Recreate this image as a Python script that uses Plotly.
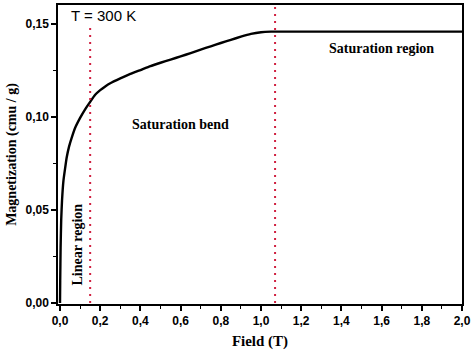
import plotly.graph_objects as go

field = [0, 0.001, 0.003, 0.006, 0.01, 0.017, 0.025, 0.033, 0.045, 0.058, 0.075,
         0.1, 0.125, 0.15, 0.175, 0.2, 0.225, 0.25, 0.3, 0.35, 0.4, 0.45, 0.5, 0.55, 0.6, 0.65,
         0.7, 0.75, 0.8, 0.85, 0.9, 0.95, 1.0, 1.05, 1.2, 1.5, 2.0]
magnetization = [0, 0.012, 0.030, 0.045, 0.055, 0.0656, 0.072, 0.078, 0.084, 0.0887, 0.094,
                 0.0994, 0.104, 0.108, 0.1118, 0.1143, 0.1163, 0.118, 0.1206, 0.123, 0.1251, 0.1272, 0.129, 0.1307,
                 0.1324, 0.1342, 0.1361, 0.1378, 0.1396, 0.1413, 0.143, 0.1445, 0.1454, 0.1457, 0.1457, 0.1457, 0.1457]

boundary_fields = [0.15, 1.07]
boundary_tops = [0.149, 0.16]

x_ticks = [0.0, 0.2, 0.4, 0.6, 0.8, 1.0, 1.2, 1.4, 1.6, 1.8, 2.0]
y_ticks = [0.0, 0.05, 0.10, 0.15]

fig = go.Figure()
fig.add_trace(go.Scatter(x=field, y=magnetization, mode="lines",
                         line=dict(color="black", width=2.4, shape="spline", smoothing=0.4),
                         showlegend=False, hoverinfo="skip"))
for bx, bt in zip(boundary_fields, boundary_tops):
    fig.add_trace(go.Scatter(x=[bx, bx], y=[0, bt], mode="lines",
                             line=dict(color="#d02040", width=2, dash="2px,5px"),
                             showlegend=False, hoverinfo="skip"))

serif = "Liberation Serif, Times New Roman, serif"
sans = "Liberation Sans, Arial, sans-serif"

fig.add_annotation(x=0.05, y=0.1545, text="T = 300 K", showarrow=False, xanchor="left",
                   font=dict(family=sans, size=15, color="black"), bgcolor="white", borderpad=0)
fig.add_annotation(x=0.60, y=0.096, text="Saturation bend", showarrow=False,
                   font=dict(family=serif, size=14, color="black", weight="bold"))
fig.add_annotation(x=1.60, y=0.1366, text="Saturation region", showarrow=False,
                   font=dict(family=serif, size=14, color="black", weight="bold"))
fig.add_annotation(x=0.085, y=0.0315, text="Linear region", showarrow=False, textangle=-90,
                   font=dict(family=serif, size=14, color="black", weight="bold"))

fig.update_layout(
    width=474, height=352,
    margin=dict(l=58, r=12, t=3, b=48),
    paper_bgcolor="white", plot_bgcolor="white",
    separators=",.",
    xaxis=dict(range=[-0.01, 2.0], tickvals=x_ticks, tickformat=".1f",
               ticks="outside", ticklen=5, tickwidth=1.5, tickcolor="black",
               minor=dict(dtick=0.1, tick0=0, ticks="outside", ticklen=3, tickcolor="black", tickwidth=1),
               showline=True, linecolor="black", linewidth=1.5, mirror=True, showgrid=False, zeroline=False,
               tickfont=dict(family=sans, size=12, color="black", weight="bold"),
               title=dict(text="Field (T)", font=dict(family=serif, size=15, color="black", weight="bold"), standoff=8)),
    yaxis=dict(range=[-0.0005, 0.16], tickvals=y_ticks, tickformat=".2f",
               ticks="outside", ticklen=5, tickwidth=1.5, tickcolor="black",
               minor=dict(dtick=0.025, tick0=0, ticks="outside", ticklen=3, tickcolor="black", tickwidth=1),
               showline=True, linecolor="black", linewidth=1.5, mirror=True, showgrid=False, zeroline=False,
               tickfont=dict(family=sans, size=12, color="black", weight="bold"),
               title=dict(text="Magnetization (cmu / g)", font=dict(family=serif, size=14, color="black", weight="bold"), standoff=6)),
)

fig.write_html("out.html")
